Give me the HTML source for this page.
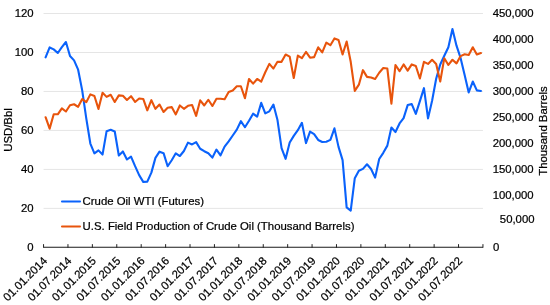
<!DOCTYPE html>
<html><head><meta charset="utf-8"><title>Chart</title>
<style>
html,body{margin:0;padding:0;background:#fff;}
body{width:550px;height:305px;overflow:hidden;}
svg{display:block;}
text{font-family:"Liberation Sans",Arial,sans-serif;font-size:11.33px;fill:#000;stroke:#000;stroke-width:0.22px;}
</style></head><body>
<svg width="550" height="305" viewBox="0 0 550 305">
<rect width="550" height="305" fill="#fff"/>

<line x1="43.55" x2="482.95" y1="13.50" y2="13.50" stroke="#e5e5e5" stroke-width="1"/>
<line x1="43.55" x2="482.95" y1="52.48" y2="52.48" stroke="#e5e5e5" stroke-width="1"/>
<line x1="43.55" x2="482.95" y1="91.45" y2="91.45" stroke="#e5e5e5" stroke-width="1"/>
<line x1="43.55" x2="482.95" y1="130.43" y2="130.43" stroke="#e5e5e5" stroke-width="1"/>
<line x1="43.55" x2="482.95" y1="169.40" y2="169.40" stroke="#e5e5e5" stroke-width="1"/>
<line x1="43.55" x2="482.95" y1="208.38" y2="208.38" stroke="#e5e5e5" stroke-width="1"/>
<line x1="43.55" x2="482.95" y1="247.25" y2="247.25" stroke="#1a1a1a" stroke-width="1.1"/>
<line x1="43.55" x2="43.55" y1="244.15" y2="247.75" stroke="#222" stroke-width="1"/>
<line x1="67.96" x2="67.96" y1="244.15" y2="247.75" stroke="#222" stroke-width="1"/>
<line x1="92.37" x2="92.37" y1="244.15" y2="247.75" stroke="#222" stroke-width="1"/>
<line x1="116.78" x2="116.78" y1="244.15" y2="247.75" stroke="#222" stroke-width="1"/>
<line x1="141.19" x2="141.19" y1="244.15" y2="247.75" stroke="#222" stroke-width="1"/>
<line x1="165.61" x2="165.61" y1="244.15" y2="247.75" stroke="#222" stroke-width="1"/>
<line x1="190.02" x2="190.02" y1="244.15" y2="247.75" stroke="#222" stroke-width="1"/>
<line x1="214.43" x2="214.43" y1="244.15" y2="247.75" stroke="#222" stroke-width="1"/>
<line x1="238.84" x2="238.84" y1="244.15" y2="247.75" stroke="#222" stroke-width="1"/>
<line x1="263.25" x2="263.25" y1="244.15" y2="247.75" stroke="#222" stroke-width="1"/>
<line x1="287.66" x2="287.66" y1="244.15" y2="247.75" stroke="#222" stroke-width="1"/>
<line x1="312.07" x2="312.07" y1="244.15" y2="247.75" stroke="#222" stroke-width="1"/>
<line x1="336.48" x2="336.48" y1="244.15" y2="247.75" stroke="#222" stroke-width="1"/>
<line x1="360.89" x2="360.89" y1="244.15" y2="247.75" stroke="#222" stroke-width="1"/>
<line x1="385.31" x2="385.31" y1="244.15" y2="247.75" stroke="#222" stroke-width="1"/>
<line x1="409.72" x2="409.72" y1="244.15" y2="247.75" stroke="#222" stroke-width="1"/>
<line x1="434.13" x2="434.13" y1="244.15" y2="247.75" stroke="#222" stroke-width="1"/>
<line x1="458.54" x2="458.54" y1="244.15" y2="247.75" stroke="#222" stroke-width="1"/>
<line x1="482.95" x2="482.95" y1="244.15" y2="247.75" stroke="#222" stroke-width="1"/>
<text x="33.6" y="16.65" text-anchor="end">120</text>
<text x="33.6" y="55.62" text-anchor="end">100</text>
<text x="33.6" y="94.60" text-anchor="end">80</text>
<text x="33.6" y="133.58" text-anchor="end">60</text>
<text x="33.6" y="172.55" text-anchor="end">40</text>
<text x="33.6" y="211.53" text-anchor="end">20</text>
<text x="33.6" y="250.50" text-anchor="end">0</text>
<text x="533.6" y="16.65" text-anchor="end">450,000</text>
<text x="533.6" y="42.63" text-anchor="end">400,000</text>
<text x="533.6" y="68.62" text-anchor="end">350,000</text>
<text x="533.6" y="94.60" text-anchor="end">300,000</text>
<text x="533.6" y="120.58" text-anchor="end">250,000</text>
<text x="533.6" y="146.57" text-anchor="end">200,000</text>
<text x="533.6" y="172.55" text-anchor="end">150,000</text>
<text x="533.6" y="198.53" text-anchor="end">100,000</text>
<text x="534.5" y="223.27" text-anchor="end">50,000</text>
<text x="493.0" y="250.50">0</text>
<text transform="translate(12.3,130) rotate(-90)" text-anchor="middle">USD/Bbl</text>
<text transform="translate(547.4,131.0) rotate(-90)" text-anchor="middle">Thousand Barrels</text>
<text transform="translate(47.88,261.55) rotate(-45)" text-anchor="end">01.01.2014</text>
<text transform="translate(72.30,261.55) rotate(-45)" text-anchor="end">01.07.2014</text>
<text transform="translate(96.71,261.55) rotate(-45)" text-anchor="end">01.01.2015</text>
<text transform="translate(121.12,261.55) rotate(-45)" text-anchor="end">01.07.2015</text>
<text transform="translate(145.53,261.55) rotate(-45)" text-anchor="end">01.01.2016</text>
<text transform="translate(169.94,261.55) rotate(-45)" text-anchor="end">01.07.2016</text>
<text transform="translate(194.35,261.55) rotate(-45)" text-anchor="end">01.01.2017</text>
<text transform="translate(218.76,261.55) rotate(-45)" text-anchor="end">01.07.2017</text>
<text transform="translate(243.17,261.55) rotate(-45)" text-anchor="end">01.01.2018</text>
<text transform="translate(267.58,261.55) rotate(-45)" text-anchor="end">01.07.2018</text>
<text transform="translate(292.00,261.55) rotate(-45)" text-anchor="end">01.01.2019</text>
<text transform="translate(316.41,261.55) rotate(-45)" text-anchor="end">01.07.2019</text>
<text transform="translate(340.82,261.55) rotate(-45)" text-anchor="end">01.01.2020</text>
<text transform="translate(365.23,261.55) rotate(-45)" text-anchor="end">01.07.2020</text>
<text transform="translate(389.64,261.55) rotate(-45)" text-anchor="end">01.01.2021</text>
<text transform="translate(414.05,261.55) rotate(-45)" text-anchor="end">01.07.2021</text>
<text transform="translate(438.46,261.55) rotate(-45)" text-anchor="end">01.01.2022</text>
<text transform="translate(462.87,261.55) rotate(-45)" text-anchor="end">01.07.2022</text>
<path d="M45.58,57.37 L49.65,47.43 L53.72,49.40 L57.79,52.98 L61.86,47.19 L65.93,42.01 L70.00,56.04 L74.06,60.35 L78.13,69.70 L82.20,90.40 L86.27,118.44 L90.34,143.54 L94.41,153.34 L98.47,150.38 L102.54,154.59 L106.61,131.15 L110.68,129.84 L114.75,131.46 L118.82,155.52 L122.89,151.47 L126.95,159.48 L131.02,156.56 L135.09,166.18 L139.16,175.17 L143.23,181.83 L147.30,181.58 L151.37,172.63 L155.43,157.86 L159.50,151.67 L163.57,153.17 L167.64,166.28 L171.71,160.24 L175.78,153.34 L179.85,156.03 L183.91,151.00 L187.98,142.66 L192.05,144.44 L196.12,142.10 L200.19,148.74 L204.26,151.22 L208.32,153.19 L212.39,157.63 L216.46,149.58 L220.53,155.31 L224.60,146.66 L228.67,141.38 L232.74,135.49 L236.80,129.61 L240.87,121.21 L244.94,127.23 L249.01,120.80 L253.08,113.72 L257.15,116.71 L261.22,102.85 L265.28,113.35 L269.35,111.33 L273.42,104.60 L277.49,120.08 L281.56,148.10 L285.63,158.86 L289.70,142.53 L293.76,135.84 L297.83,130.15 L301.90,122.81 L305.97,143.09 L310.04,131.59 L314.11,134.13 L318.17,139.97 L322.24,141.98 L326.31,141.77 L330.38,139.84 L334.45,128.36 L338.52,146.87 L342.59,160.12 L346.65,207.44 L350.72,210.64 L354.79,178.19 L358.86,170.82 L362.93,168.87 L367.00,164.31 L371.07,168.97 L375.13,177.60 L379.20,158.99 L383.27,152.80 L387.34,145.63 L391.41,127.50 L395.48,132.06 L399.55,123.45 L403.61,118.11 L407.68,105.09 L411.75,104.12 L415.82,113.86 L419.89,101.14 L423.96,88.14 L428.02,118.38 L432.09,100.78 L436.16,78.78 L440.23,64.56 L444.30,55.79 L448.37,47.21 L452.44,29.09 L456.50,45.65 L460.57,57.93 L464.64,74.89 L468.71,92.44 L472.78,81.51 L476.85,90.38 L480.92,90.94" fill="none" stroke="#0a62fb" stroke-width="2.1" stroke-linejoin="round" stroke-linecap="round"/>
<path d="M45.58,117.21 L49.65,128.66 L53.72,114.28 L57.79,114.32 L61.86,108.41 L65.93,111.50 L70.00,105.24 L74.06,104.26 L78.13,106.81 L82.20,99.05 L86.27,102.19 L90.34,94.36 L94.41,96.02 L98.47,108.91 L102.54,92.70 L106.61,96.86 L110.68,94.73 L114.75,101.97 L118.82,95.36 L122.89,95.81 L126.95,99.98 L131.02,96.19 L135.09,101.94 L139.16,98.46 L143.23,98.93 L147.30,110.32 L151.37,100.19 L155.43,108.84 L159.50,104.57 L163.57,111.94 L167.64,107.71 L171.71,107.09 L175.78,114.42 L179.85,105.45 L183.91,108.81 L187.98,105.82 L192.05,104.96 L196.12,115.87 L200.19,100.28 L204.26,105.48 L208.32,99.76 L212.39,106.00 L216.46,98.73 L220.53,98.73 L224.60,99.25 L228.67,91.97 L232.74,90.41 L236.80,86.25 L240.87,86.25 L244.94,98.21 L249.01,78.98 L253.08,83.66 L257.15,78.98 L261.22,81.58 L265.28,72.22 L269.35,63.91 L273.42,68.58 L277.49,61.83 L281.56,61.83 L285.63,54.55 L289.70,56.63 L293.76,77.94 L297.83,55.59 L301.90,58.19 L305.97,51.96 L310.04,57.67 L314.11,57.15 L318.17,47.28 L322.24,52.47 L326.31,42.60 L330.38,45.20 L334.45,38.44 L338.52,40.00 L342.59,54.55 L346.65,41.56 L350.72,61.83 L354.79,90.93 L358.86,84.69 L362.93,70.14 L367.00,76.90 L371.07,77.42 L375.13,78.98 L379.20,72.74 L383.27,68.06 L387.34,68.58 L391.41,103.66 L395.48,64.95 L399.55,71.18 L403.61,64.43 L407.68,70.66 L411.75,64.43 L415.82,65.99 L419.89,78.46 L423.96,61.83 L428.02,63.91 L432.09,59.75 L436.16,63.91 L440.23,81.58 L444.30,58.19 L448.37,64.95 L452.44,59.75 L456.50,63.39 L460.57,56.11 L464.64,54.29 L468.71,54.97 L472.78,47.28 L476.85,54.55 L480.92,53.05" fill="none" stroke="#e8540c" stroke-width="2.1" stroke-linejoin="round" stroke-linecap="round"/>
<line x1="62" x2="80" y1="201.5" y2="201.5" stroke="#0a62fb" stroke-width="2.1" stroke-linecap="round"/>
<text x="82.6" y="205.4" style="font-size:11.38px">Crude Oil WTI (Futures)</text>
<line x1="62" x2="80" y1="226.5" y2="226.5" stroke="#e8540c" stroke-width="2.1" stroke-linecap="round"/>
<text x="82.6" y="230.4" style="font-size:11.38px">U.S. Field Production of Crude Oil (Thousand Barrels)</text>
</svg></body></html>
